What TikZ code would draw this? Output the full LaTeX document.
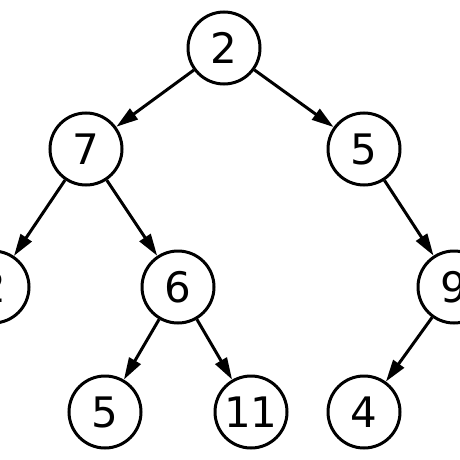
\documentclass[tikz,border=0pt]{standalone}
\usepackage{fontspec}
\setmainfont{DejaVu Sans}
\usetikzlibrary{arrows.meta}
\begin{document}
\begin{tikzpicture}[x=1pt,y=-1pt,
  tnode/.style={circle,draw=black,line width=3pt,fill=white,minimum size=72pt,inner sep=0pt,font=\fontsize{42}{42}\selectfont},
  edge/.style={line width=3pt,-{Triangle[length=22pt,width=13pt]},shorten >=0pt}]
\useasboundingbox (0,0) rectangle (460,460);
\clip (0,0) rectangle (460,460);
\fill[white] (0,0) rectangle (460,460);
\node[tnode] (r) at (224,48) {2};
\node[tnode] (a) at (86,149) {7};
\node[tnode] (b) at (364,149) {5};
\node[tnode] (c) at (-7,287) {2};
\node[tnode] (d) at (178,287) {6};
\node[tnode] (e) at (454,287) {9};
\node[tnode] (f) at (105,412) {5};
\node[tnode] (g) at (251,412) {11};
\node[tnode] (h) at (364,412) {4};
\draw[edge] (r) -- (a);
\draw[edge] (r) -- (b);
\draw[edge] (a) -- (c);
\draw[edge] (a) -- (d);
\draw[edge] (b) -- (e);
\draw[edge] (d) -- (f);
\draw[edge] (d) -- (g);
\draw[edge] (e) -- (h);
\end{tikzpicture}
\end{document}
